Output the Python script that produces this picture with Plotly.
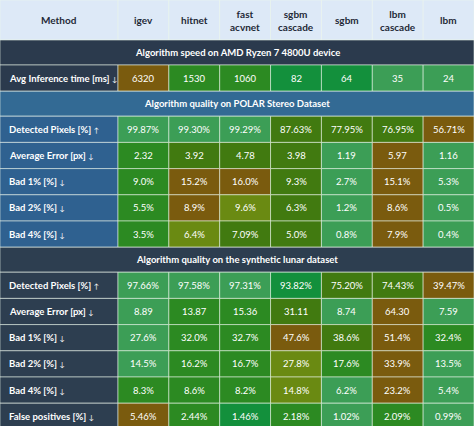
import plotly.graph_objects as go

methods = ["igev", "hitnet", "fast<br>acvnet", "sgbm<br>cascade", "sgbm", "lbm<br>cascade", "lbm"]

sections = [
    ("Algorithm speed on AMD Ryzen 7 4800U device", "#2b3a4d", "#2b3a4d", [
        ("Avg Inference time [ms] ↓", ["6320", "1530", "1060", "82", "64", "35", "24"], "BGGEELL"),
    ]),
    ("Algorithm quality on POLAR Stereo Dataset", "#336a94", "#2f6190", [
        ("Detected Pixels [%] ↑", ["99.87%", "99.30%", "99.29%", "87.63%", "77.95%", "76.95%", "56.71%"], "LLLDDDB"),
        ("Average Error [px] ↓", ["2.32", "3.92", "4.78", "3.98", "1.19", "5.97", "1.16"], "GDDDLBL"),
        ("Bad 1% [%] ↓", ["9.0%", "15.2%", "16.0%", "9.3%", "2.7%", "15.1%", "5.3%"], "GBBDLBL"),
        ("Bad 2% [%] ↓", ["5.5%", "8.9%", "9.6%", "6.3%", "1.2%", "8.6%", "0.5%"], "GBODLBL"),
        ("Bad 4% [%] ↓", ["3.5%", "6.4%", "7.09%", "5.0%", "0.8%", "7.9%", "0.4%"], "GODDLBL"),
    ]),
    ("Algorithm quality on the synthetic lunar dataset", "#2d3e50", "#2d3e50", [
        ("Detected Pixels [%] ↑", ["97.66%", "97.58%", "97.31%", "93.82%", "75.20%", "74.43%", "39.47%"], "LLLEDDB"),
        ("Average Error [px] ↓", ["8.89", "13.87", "15.36", "31.11", "8.74", "64.30", "7.59"], "LGGDLBL"),
        ("Bad 1% [%] ↓", ["27.6%", "32.0%", "32.7%", "47.6%", "38.6%", "51.4%", "32.4%"], "LGGBDBG"),
        ("Bad 2% [%] ↓", ["14.5%", "16.2%", "16.7%", "27.8%", "17.6%", "33.9%", "13.5%"], "LGGOGBL"),
        ("Bad 4% [%] ↓", ["8.3%", "8.6%", "8.2%", "14.8%", "6.2%", "23.2%", "5.4%"], "GGGOLBL"),
        ("False positives [%] ↓", ["5.46%", "2.44%", "1.46%", "2.18%", "1.02%", "2.09%", "0.99%"], "BGEGLGL"),
    ]),
]

palette = {"B": "#7a5b0e", "O": "#6a8a12", "D": "#417a10", "G": "#2c8a22",
           "E": "#13903c", "L": "#3c9e56"}

W, H = 474, 426
first_w = 118
col_w = (W - first_w) / 7
head_h, sec_h, row_h = 40, 25, 26.2
line = dict(color="rgba(235,245,235,0.55)", width=1)

fig = go.Figure()
fig.add_trace(go.Scatter(x=[0, W], y=[0, H], mode="markers", marker=dict(opacity=0), hoverinfo="skip"))
shapes, ann = [], []
font = dict(family="Lato", size=9.5, color="white")

def rect(x0, y0, x1, y1, c):
    shapes.append(dict(type="rect", x0=x0, x1=x1, y0=y0, y1=y1, fillcolor=c, line=line, layer="below"))

def text(x, y, t, **kw):
    f = dict(font); f.update(kw.pop("font", {}))
    ann.append(dict(x=x, y=y, text=t, showarrow=False, font=f, **kw))

# header
hdr_font = dict(color="#1f2a38", size=10)
rect(0, 0, first_w, head_h, "#dde9f7")
text(first_w / 2, head_h / 2, "<b>Method</b>", font=hdr_font)
for i, m in enumerate(methods):
    x0 = first_w + i * col_w
    rect(x0, 0, x0 + col_w, head_h, "#dde9f7")
    text(x0 + col_w / 2, head_h / 2, f"<b>{m}</b>", font=hdr_font)

y = head_h
for title, sec_col, lab_col, rows in sections:
    rect(0, y, W, y + sec_h, sec_col)
    text(W / 2, y + sec_h / 2, f"<b>{title}</b>")
    y += sec_h
    for label, vals, cols in rows:
        rect(0, y, first_w, y + row_h, lab_col)
        name, arrow = label[:-2], label[-1]
        text(7, y + row_h / 2, f"<b>{name}</b> <span style='font-size:7px'>{arrow}</span>", xanchor="left")
        for i, (v, c) in enumerate(zip(vals, cols)):
            x0 = first_w + i * col_w
            rect(x0, y, x0 + col_w, y + row_h, palette[c])
            text(x0 + col_w / 2, y + row_h / 2, v)
        y += row_h

fig.update_layout(
    autosize=True, margin=dict(l=0, r=0, t=0, b=0),
    paper_bgcolor="white", plot_bgcolor="white", showlegend=False,
    xaxis=dict(range=[0, W], visible=False, fixedrange=True),
    yaxis=dict(range=[H, 0], visible=False, fixedrange=True),
    shapes=shapes, annotations=ann,
)
fig.write_html("out.html", default_width="100vw", default_height="100vh",
               config={"displayModeBar": False},
               post_script="document.body.style.margin='0';document.body.style.overflow='hidden';")
